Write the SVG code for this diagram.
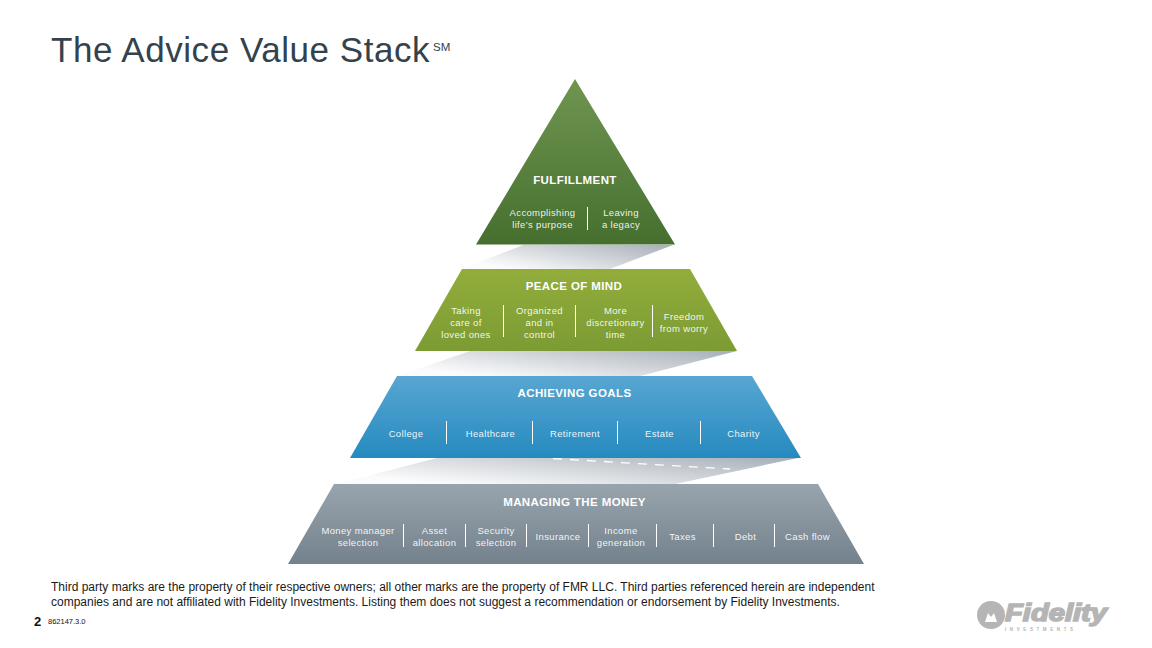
<svg xmlns="http://www.w3.org/2000/svg" width="1152" height="648" viewBox="0 0 1152 648">
<style>
text{font-family:"Liberation Sans",Arial,sans-serif}
.h{font-size:11.5px;font-weight:700;fill:#fff;text-anchor:middle;letter-spacing:.4px}
.t{font-size:9.5px;fill:#fff;fill-opacity:.92;text-anchor:middle;letter-spacing:.35px}
.d{stroke:#fff;stroke-width:1;fill:none}
.n{font-size:12px;fill:#1a1a1a}
</style>
<defs>
<linearGradient id="g1" x1="0" y1="0" x2="0" y2="1"><stop offset="0" stop-color="#6f9550"/><stop offset="1" stop-color="#466f2f"/></linearGradient>
<linearGradient id="g2" x1="0" y1="0" x2="0" y2="1"><stop offset="0" stop-color="#92ad3b"/><stop offset="1" stop-color="#7c9b34"/></linearGradient>
<linearGradient id="g3" x1="0" y1="0" x2="0" y2="1"><stop offset="0" stop-color="#58a6d2"/><stop offset="1" stop-color="#268abf"/></linearGradient>
<linearGradient id="g4" x1="0" y1="0" x2="0" y2="1"><stop offset="0" stop-color="#98a4ad"/><stop offset="1" stop-color="#74828d"/></linearGradient>
<linearGradient id="s" x1="1" y1="0" x2="0" y2=".6"><stop offset="0" stop-color="#a5afba"/><stop offset=".4" stop-color="#c8cdd2"/><stop offset=".8" stop-color="#eaecee"/><stop offset="1" stop-color="#fbfbfc"/></linearGradient>
</defs>
<g id="title"><text x="51" y="62" font-size="35" fill="#33424c" letter-spacing=".55">The Advice Value Stack</text><text x="433" y="51" font-size="11.500" fill="#33424c">SM</text></g>
<g id="connectors">
<polygon points="523,245 673,245 610,269 462,269" fill="url(#s)"/>
<polygon points="470,351 737,351 640,376 398,376" fill="url(#s)"/>
<polygon points="437,458 798,458 675,484 336,484" fill="url(#s)"/>
<path d="M553 458.500L730 469" stroke="#fff" stroke-width="1.300" stroke-dasharray="9 8" fill="none"/>
</g>
<g id="fulfillment"><polygon points="575,79 675,244.500 476,244.500" fill="url(#g1)"/>
<text class="h" x="575" y="184">FULFILLMENT</text>
<text class="t" x="542.500" y="216">Accomplishing</text><text class="t" x="542.500" y="228">life's purpose</text>
<path class="d" d="M587.500 207V230"/>
<text class="t" x="621" y="216">Leaving</text><text class="t" x="621" y="228">a legacy</text></g>
<g id="peace-of-mind"><polygon points="462,269 690,269 737,351 415,351" fill="url(#g2)"/>
<text class="h" x="574" y="290">PEACE OF MIND</text>
<text class="t" x="466" y="314">Taking</text><text class="t" x="466" y="326">care of</text><text class="t" x="466" y="338">loved ones</text>
<path class="d" d="M503.500 305V337M575.500 305V337M652.500 305V337"/>
<text class="t" x="539.500" y="314">Organized</text><text class="t" x="539.500" y="326">and in</text><text class="t" x="539.500" y="338">control</text>
<text class="t" x="615.500" y="314">More</text><text class="t" x="615.500" y="326">discretionary</text><text class="t" x="615.500" y="338">time</text>
<text class="t" x="684" y="320">Freedom</text><text class="t" x="684" y="332">from worry</text></g>
<g id="achieving-goals"><polygon points="397,376 752,376 801,458 350,458" fill="url(#g3)"/>
<text class="h" x="574.500" y="397">ACHIEVING GOALS</text>
<path class="d" d="M446.500 421V444M532.500 421V444M617.500 421V444M700.500 421V444"/>
<text class="t" x="406" y="437">College</text><text class="t" x="490.500" y="437">Healthcare</text><text class="t" x="575" y="437">Retirement</text><text class="t" x="659.500" y="437">Estate</text><text class="t" x="743.500" y="437">Charity</text></g>
<g id="managing-the-money"><polygon points="334,484 818,484 864,564 288,564" fill="url(#g4)"/>
<text class="h" x="574.500" y="506">MANAGING THE MONEY</text>
<path class="d" d="M403.500 524V547M465.500 524V547M526.500 524V547M588.500 524V547M656.500 524V547M713.500 524V547M774.500 524V547"/>
<text class="t" x="358" y="534">Money manager</text><text class="t" x="358" y="546">selection</text>
<text class="t" x="434.500" y="534">Asset</text><text class="t" x="434.500" y="546">allocation</text>
<text class="t" x="496" y="534">Security</text><text class="t" x="496" y="546">selection</text>
<text class="t" x="558" y="540">Insurance</text>
<text class="t" x="621" y="534">Income</text><text class="t" x="621" y="546">generation</text>
<text class="t" x="682.500" y="540">Taxes</text><text class="t" x="745.500" y="540">Debt</text><text class="t" x="807.500" y="540">Cash flow</text></g>
<g id="footer">
<text class="n" x="51" y="591">Third party marks are the property of their respective owners; all other marks are the property of FMR LLC. Third parties referenced herein are independent</text>
<text class="n" x="51" y="606">companies and are not affiliated with Fidelity Investments. Listing them does not suggest a recommendation or endorsement by Fidelity Investments.</text>
<text x="34" y="626" font-size="13" font-weight="700" fill="#111">2</text>
<text x="48" y="624" font-size="7.500" fill="#111">862147.3.0</text>
</g>
<g id="logo" fill="#b5b5b5"><circle cx="991" cy="615" r="14"/><path d="M985 622l3-9 3 4 3-4 3 9z" fill="#fff"/>
<text x="1005" y="621" font-size="24" font-weight="700" font-style="italic" stroke="#b5b5b5" stroke-width="1.600" textLength="102" lengthAdjust="spacingAndGlyphs">Fidelity</text>
<text x="1005" y="630.500" font-size="4.500" font-weight="700" letter-spacing="3.600">INVESTMENTS</text></g>
</svg>
